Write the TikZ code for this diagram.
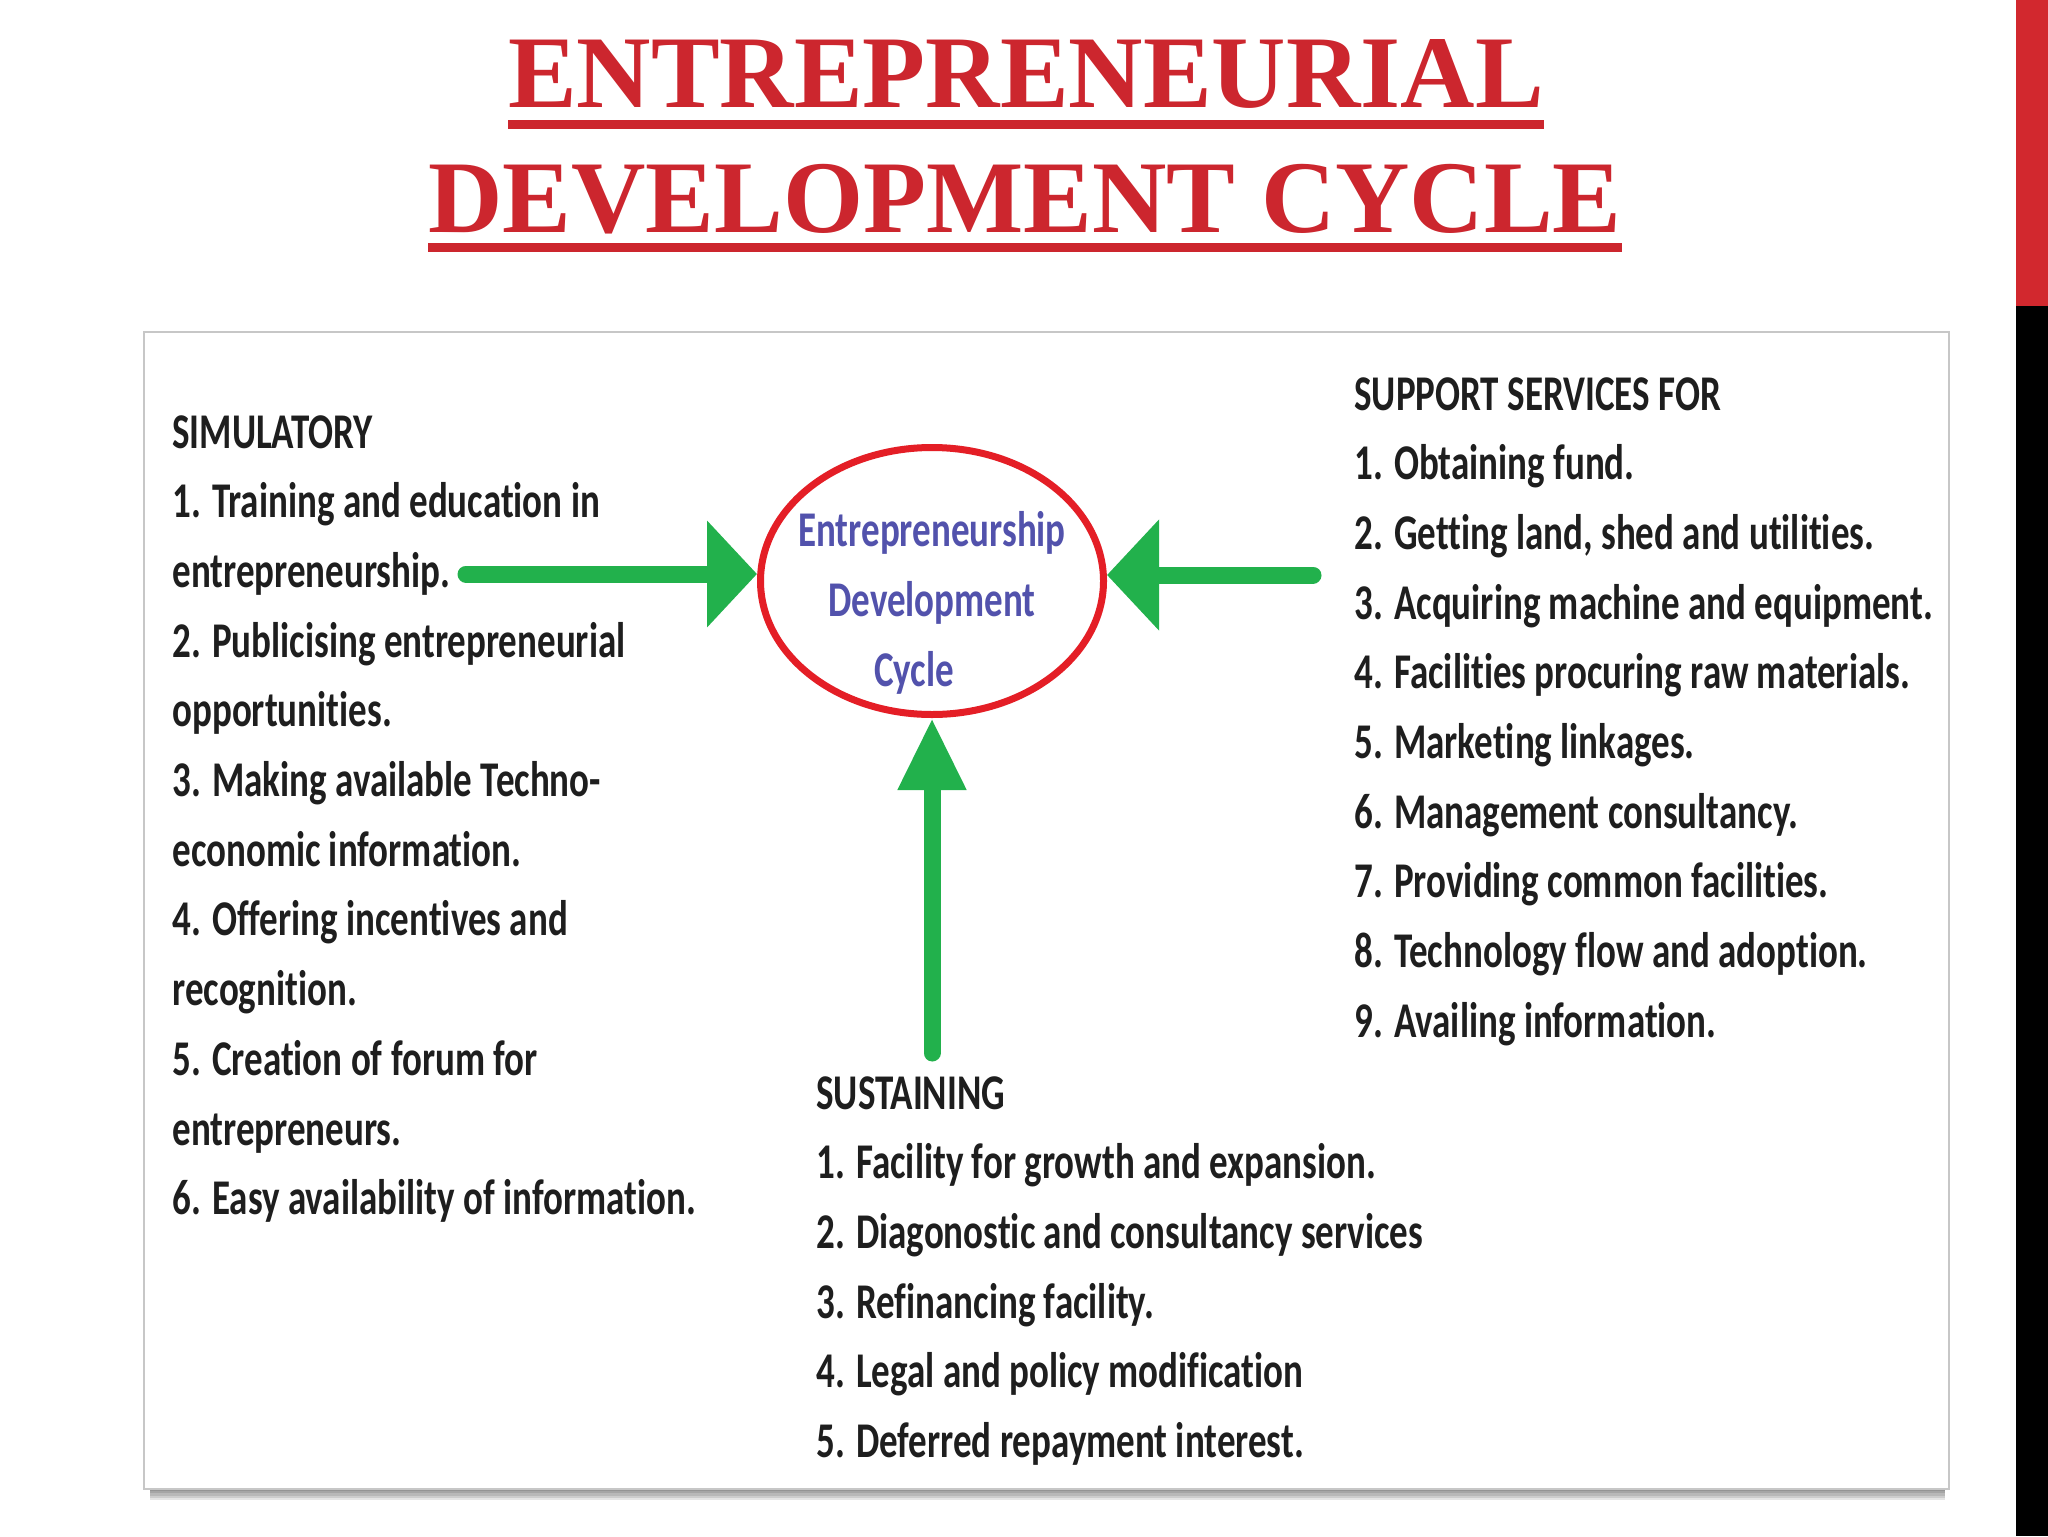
\documentclass[tikz,border=0pt]{standalone}
\usepackage{fontspec}
\usepackage{graphicx}
\setmainfont{Liberation Serif}
\newfontfamily\calfont[Ligatures=NoCommon]{Carlito}
\usetikzlibrary{arrows.meta,shapes.geometric}
\definecolor{titlered}{RGB}{204,38,46}
\definecolor{ellred}{RGB}{228,30,38}
\definecolor{arrowgreen}{RGB}{34,177,76}
\definecolor{cycblue}{RGB}{82,82,172}
\definecolor{bodytext}{RGB}{30,30,30}
\definecolor{stripred}{RGB}{210,40,46}
\newcommand\sq[1]{\scalebox{0.74}[1]{#1}}
\tikzset{
  titletext/.style={inner sep=0pt, outer sep=0pt, anchor=base, text=titlered,
    font=\fontsize{51.5}{60}\selectfont\bfseries},
  bodyline/.style={inner sep=0pt, anchor=base west, text=bodytext,
    font=\calfont\bfseries\fontsize{25}{30}\selectfont},
  cyctext/.style={inner sep=0pt, anchor=base, text=cycblue,
    font=\calfont\bfseries\fontsize{25}{30}\selectfont},
  garrow/.style={draw=arrowgreen, line width=8.5pt, line cap=round},
}
\begin{document}
\begin{tikzpicture}[x=0.5pt,y=-0.5pt]
\useasboundingbox (0,0) rectangle (2048,1536);
\fill[white] (0,0) rectangle (2048,1536);
% right strip
\fill[stripred] (2016,0) rectangle (2048,306);
\fill[black] (2016,306) rectangle (2048,1536);
% title
\node[titletext] (t1) at (1026,108) {ENTREPRENEURIAL};
\node[titletext] (t2) at (1025,232) {DEVELOPMENT CYCLE};
\fill[titlered] (t1.west |- 0,120) rectangle (t1.east |- 0,129);
\fill[titlered] (t2.west |- 0,243) rectangle (t2.east |- 0,252);
% frame with shadow
\foreach \k in {1,...,5}
  \fill[black, opacity=0.10] (150,1489) rectangle (1945,{1489+2.2*\k});
\draw[black!22, line width=1pt, fill=white] (144,332) rectangle (1949,1489);
% ellipse
\node[draw=ellred, line width=3.5pt, ellipse, minimum width=171.5pt,
      minimum height=133.5pt, inner sep=0pt] (cyc) at (932,581) {};
\node[cyctext] (c1) at (932,546) {\sq{Entrepreneurship}};
\node[cyctext] (c2) at (932,616) {\sq{Development}};
\node[cyctext] (c3) at (914,686) {\sq{Cycle}};
% left column
\foreach \txt [count=\i from 0] in {{SIMULATORY},{1. Training and education in},{entrepreneurship.},{2. Publicising entrepreneurial},{opportunities.},{3. Making available Techno-},{economic information.},{4. Offering incentives and},{recognition.},{5. Creation of forum for},{entrepreneurs.},{6. Easy availability of information.}}
  \node[bodyline] (S\i) at (172,{448+69.7*\i}) {\sq{\txt}};
% right column
\foreach \txt [count=\i from 0] in {{SUPPORT SERVICES FOR},{1. Obtaining fund.},{2. Getting land, shed and utilities.},{3. Acquiring machine and equipment.},{4. Facilities procuring raw materials.},{5. Marketing linkages.},{6. Management consultancy.},{7. Providing common facilities.},{8. Technology flow and adoption.},{9. Availing information.}}
  \node[bodyline] (R\i) at (1354,{410+69.7*\i}) {\sq{\txt}};
% bottom column
\foreach \txt [count=\i from 0] in {{SUSTAINING},{1. Facility for growth and expansion.},{2. Diagonostic and consultancy services},{3. Refinancing facility.},{4. Legal and policy modification},{5. Deferred repayment interest.}}
  \node[bodyline] (B\i) at (816,{1109+69.7*\i}) {\sq{\txt}};
% arrows
\coordinate (lstart) at (466,574);
\coordinate (rstart) at (1313,575);
\coordinate (bstart) at (932,1053);
\draw[garrow, -{Triangle[length=25pt,width=52pt]}] (lstart) -- (lstart -| cyc.west);
\draw[garrow, -{Triangle[length=26pt,width=54pt]}] (rstart) -- (rstart -| cyc.east);
\draw[garrow, -{Triangle[length=36pt,width=32pt]}] (bstart) -- (bstart |- cyc.south);
\end{tikzpicture}
\end{document}
